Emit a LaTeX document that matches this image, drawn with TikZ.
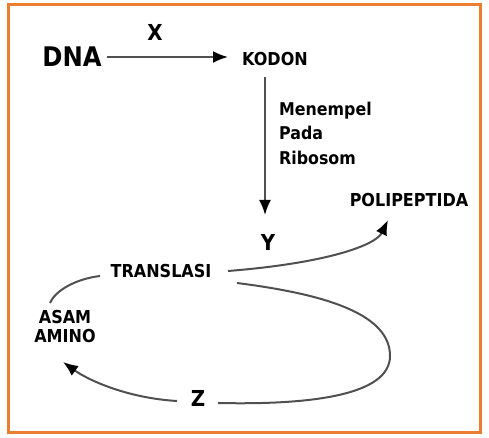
\documentclass[tikz,border=0pt]{standalone}
\usepackage{fontspec}
\setmainfont{DejaVu Sans Condensed}
\usetikzlibrary{arrows.meta,calc}
\definecolor{frameorange}{HTML}{ED7D31}
\definecolor{linegrey}{HTML}{505050}
\tikzset{
  lbl/.style={font=\bfseries\fontsize{17.8}{20}\selectfont, inner sep=0pt},
  biglbl/.style={font=\bfseries\fontsize{27}{30}\selectfont, inner sep=0pt},
  letter/.style={font=\bfseries\fontsize{22}{24}\selectfont, inner sep=0pt},
  conn/.style={draw=linegrey, line width=2pt},
  arr/.style={conn, -{Latex[length=15pt,width=12pt,color=black]}},
}
\begin{document}
\begin{tikzpicture}[x=1pt,y=-1pt]
\useasboundingbox (0,0) rectangle (489,438);
\draw[frameorange, line width=3pt] (8,5) rectangle (480,432);

\node[biglbl] (dna) at (72,57) {DNA};
\node[letter] (x) at (155,32) {X};
\node[lbl] (kodon) at (275,59) {KODON};
\node[lbl, align=left, anchor=west, font=\bfseries\fontsize{17.6}{24.5}\selectfont] (menempel) at (279,133) {Menempel\\Pada\\Ribosom};
\node[lbl] (poli) at (409,200) {POLIPEPTIDA};
\node[letter] (y) at (268,242) {Y};
\node[lbl] (trans) at (161,271) {TRANSLASI};
\node[lbl, align=center, font=\bfseries\fontsize{17.8}{19}\selectfont] (asam) at (65,327) {ASAM\\AMINO};
\node[letter] (z) at (198,398) {Z};

\draw[arr] ($(dna)+(35,0)$) -- ($(kodon)+(-47,-2)$);
\draw[arr] ($(kodon)+(-10,18)$) -- ($(y)+(-3,-27)$);
\draw[arr] ($(trans)+(67,0)$) .. controls +(100,-8) and +(-12,25) .. ($(poli)+(-21,20)$);
\draw[conn] ($(trans)+(-61,5)$) .. controls +(-25,3) and +(5,-12) .. ($(asam)+(-15,-24)$);
\draw[conn] ($(trans)+(76,12)$) .. controls +(95,12) and +(0,-40) .. (390,356) .. controls +(0,40) and +(90,2) .. ($(z)+(20,5)$);
\draw[arr] ($(z)+(-21,3)$) .. controls +(-50,-3) and +(25,18) .. ($(asam)+(-2,35)$);
\end{tikzpicture}
\end{document}
